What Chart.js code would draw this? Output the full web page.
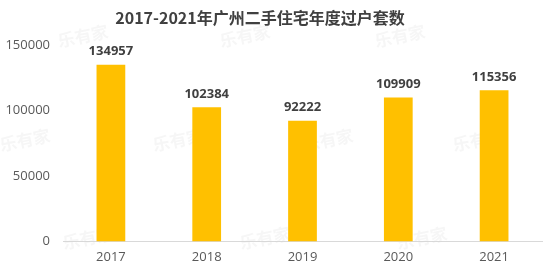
<!DOCTYPE html>
<html>
<head>
<meta charset="utf-8">
<script src="https://cdn.jsdelivr.net/npm/chart.js@4"></script>
<style>
html,body{margin:0;padding:0;background:#fff;}
#c{display:block;}
</style>
</head>
<body>
<canvas id="c" width="554" height="275"></canvas>
<script>
const titleText = "2017-2021年广州二手住宅年度过户套数";
const categories = ["2017", "2018", "2019", "2020", "2021"];
const transfers = [134957, 102384, 92222, 109909, 115356];
const yTicks = [0, 50000, 100000, 150000];
const watermarkText = "乐有家";

const fontFamily = "'Noto Sans CJK SC', 'Open Sans', sans-serif";

const overlayPlugin = {
  id: 'overlay',
  beforeDatasetsDraw(chart) {
    const ctx = chart.ctx;
    ctx.save();
    ctx.font = "bold 17px " + fontFamily;
    ctx.fillStyle = "rgba(215,215,215,0.22)";
    ctx.textAlign = "center";
    ctx.textBaseline = "middle";
    const spots = [[83,36],[245,36],[400,36],[25,140],[178,140],[328,140],[478,140],[88,238],[265,238],[422,238]];
    spots.forEach(([x,y]) => {
      ctx.save();
      ctx.translate(x,y);
      ctx.rotate(-0.2);
      ctx.fillText(watermarkText, 0, 0);
      ctx.restore();
    });
    ctx.restore();
  },
  afterDatasetsDraw(chart) {
    const ctx = chart.ctx;
    ctx.save();
    ctx.font = "bold 16px " + fontFamily;
    ctx.fillStyle = "#404040";
    ctx.textAlign = "center";
    ctx.textBaseline = "middle";
    ctx.fillText(titleText, 260, 18);
    ctx.font = "bold 13px 'Open Sans', 'Noto Sans', sans-serif";
    ctx.fillStyle = "#404040";
    ctx.textBaseline = "bottom";
    const meta = chart.getDatasetMeta(0);
    meta.data.forEach((bar, i) => {
      ctx.fillText(String(transfers[i]), bar.x, bar.y - 7);
    });
    ctx.restore();
  }
};

new Chart(document.getElementById('c'), {
  type: 'bar',
  data: {
    labels: categories,
    datasets: [{
      data: transfers,
      backgroundColor: '#FFC000',
      borderWidth: 0,
      barPercentage: 0.6,
      categoryPercentage: 0.5
    }]
  },
  options: {
    responsive: false,
    animation: false,
    layout: { padding: { top: 45, right: 12, bottom: 2, left: 0 } },
    plugins: { legend: { display: false }, title: { display: false }, tooltip: { enabled: false } },
    scales: {
      x: {
        grid: { display: false, drawTicks: false },
        border: { display: true, color: '#d9d9d9', width: 1 },
        ticks: { color: '#595959', font: { size: 13, family: "'Open Sans', 'Noto Sans', sans-serif" }, padding: 8 }
      },
      y: {
        min: 0, max: 150000,
        grid: { display: false, drawTicks: false },
        border: { display: false },
        afterBuildTicks(axis) { axis.ticks = yTicks.map(v => ({ value: v })); },
        afterFit(axis) { axis.width = 63; },
        ticks: {
          color: '#595959',
          font: { size: 13, family: "'Open Sans', 'Noto Sans', sans-serif" },
          padding: 13,
          callback: (v) => String(v)
        }
      }
    }
  },
  plugins: [overlayPlugin]
});
</script>
</body>
</html>
